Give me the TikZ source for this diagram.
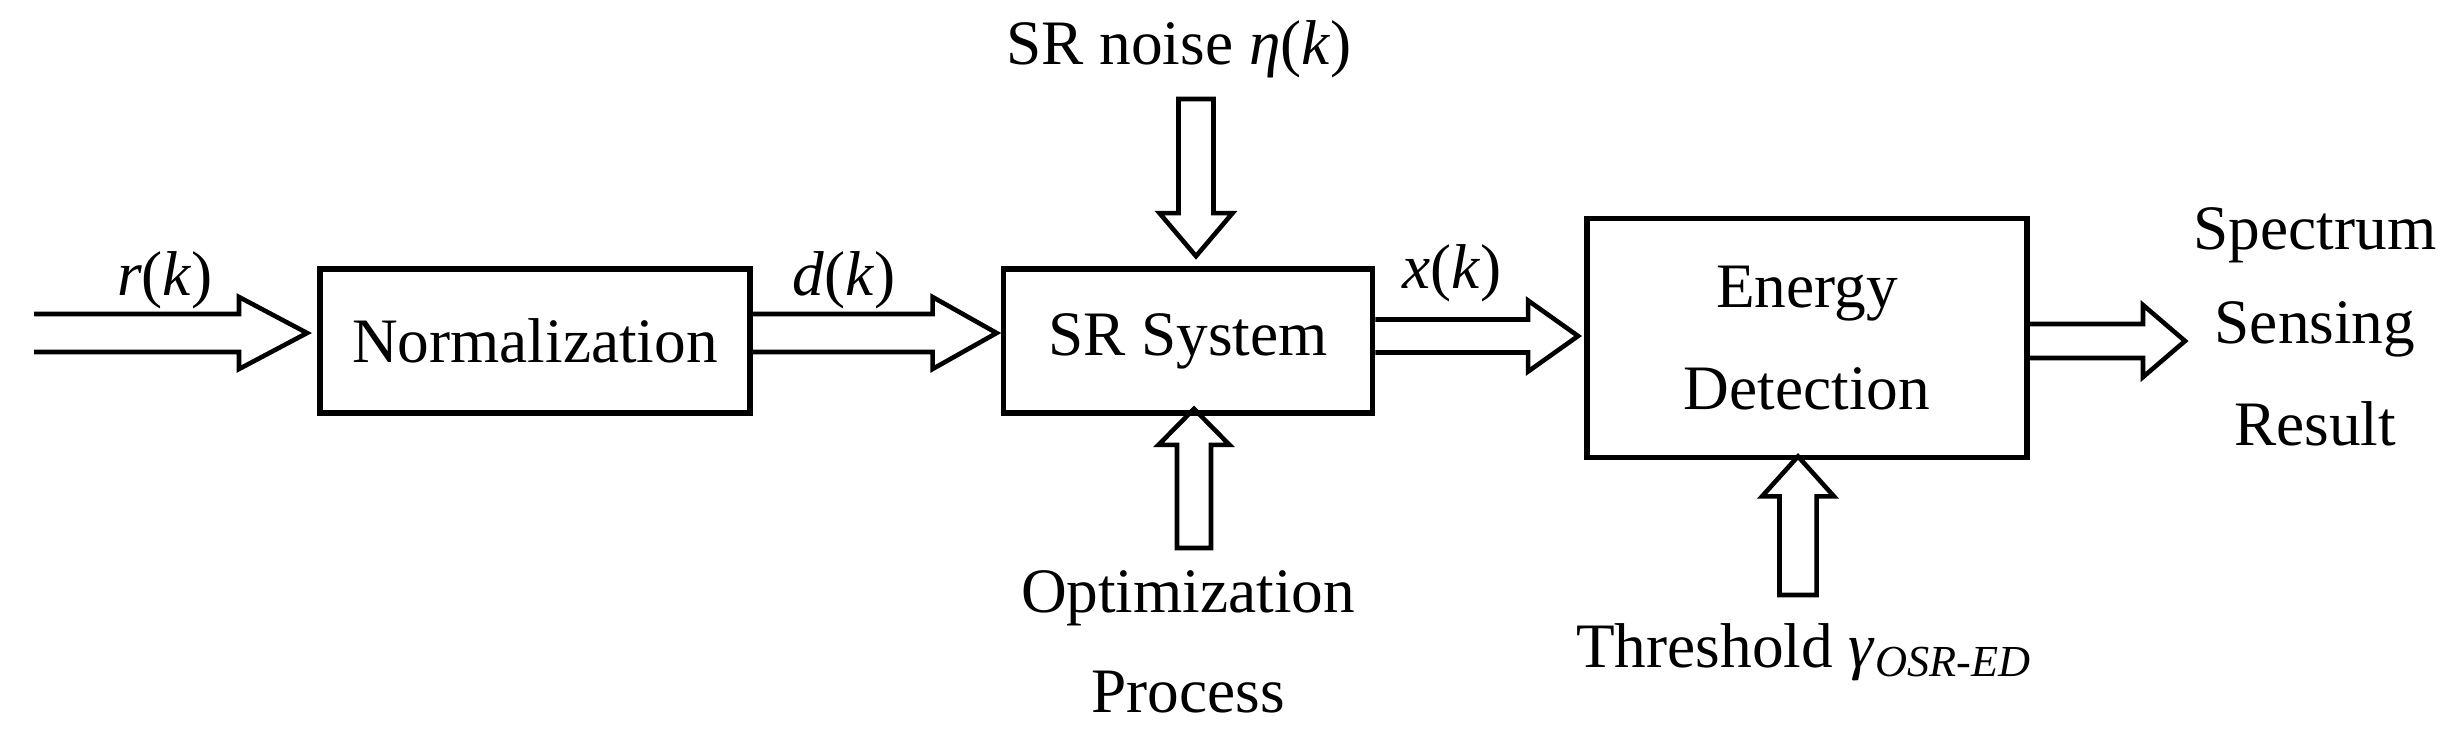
\documentclass[tikz,border=0pt]{standalone}
\usepackage{fontspec}
\setmainfont{Liberation Serif}
\usetikzlibrary{calc}
\tikzset{
  box/.style={draw, line width=1.6pt, minimum height=1.44cm, inner sep=0pt},
  barrow/.style={draw, line width=1.3pt, line join=miter},
  lab/.style={inner sep=0pt, font=\fontsize{18}{21}\selectfont},
}
\newcommand\harr[5]{\draw[barrow] let \p1=(#1), \p2=(#2) in
  (\x1,\y1+#3) -- (\x2-#5,\y1+#3) -- (\x2-#5,\y1+#4) -- (\x2,\y1) --
  (\x2-#5,\y1-#4) -- (\x2-#5,\y1-#3) -- (\x1,\y1-#3);}
\newcommand\varr[5]{\draw[barrow] let \p1=(#1), \p2=(#2) in
  (\x1-#3,\y1) -- (\x1-#3,\y2+#5) -- (\x1-#4,\y2+#5) -- (\x1,\y2) --
  (\x1+#4,\y2+#5) -- (\x1+#3,\y2+#5) -- (\x1+#3,\y1) -- cycle;}
\begin{document}
\begin{tikzpicture}[x=0.01cm,y=-0.01cm]
\useasboundingbox (0,0) rectangle (2461,738);
\node[box, minimum width=4.3cm, lab] (norm) at (535,341) {Normalization};
\node[box, minimum width=3.69cm, lab] (sr) at (1188,341) {SR System};
\node[box, minimum width=4.4cm, minimum height=2.39cm, lab, align=center] (ed) at (1807,338) {Energy\\[8pt]Detection};
\coordinate (in) at (34,333);
\coordinate (out) at (2185,341);
\coordinate (ntop) at (1196,99);
\coordinate (obot) at (1194,548);
\coordinate (tbot) at (1798,595);
\harr{in}{$(norm.west|-in)+(-10,0)$}{0.19cm}{0.36cm}{0.68cm}
\harr{norm.east|-in}{$(sr.west|-in)+(-4,0)$}{0.19cm}{0.36cm}{0.64cm}
\harr{$(sr.east)+(0,-5)$}{$(ed.west|-sr.east)+(-6,-5)$}{0.165cm}{0.355cm}{0.5cm}
\harr{ed.east|-out}{out}{0.17cm}{0.36cm}{0.42cm}
\varr{ntop}{$(ntop|-sr.north)+(0,-10)$}{0.175cm}{0.365cm}{0.43cm}
\varr{obot}{$(obot|-sr.south)+(0,-7)$}{0.17cm}{0.355cm}{-0.36cm}
\varr{tbot}{$(tbot|-ed.south)+(0,-4)$}{0.185cm}{0.36cm}{-0.4cm}
\node[lab] (rk) at (165,280) {\textit{r}(\textit{k})};
\node[lab] (dk) at (844,280) {\textit{d}(\textit{k})};
\node[lab] (xk) at (1452,273) {\textit{x}(\textit{k})};
\node[lab] (noise) at (1179,49) {SR noise \textit{η}(\textit{k})};
\node[lab] (opt) at (1188,598) {Optimization};
\node[lab] (proc) at (1188,692) {Process};
\node[lab] (thr) at (1804,652) {Threshold \textit{γ}\textsubscript{\textit{OSR-ED}}};
\node[lab] (spec) at (2315,235) {Spectrum};
\node[lab] (sens) at (2315,329) {Sensing};
\node[lab] (res) at (2315,424) {Result};
\end{tikzpicture}
\end{document}
